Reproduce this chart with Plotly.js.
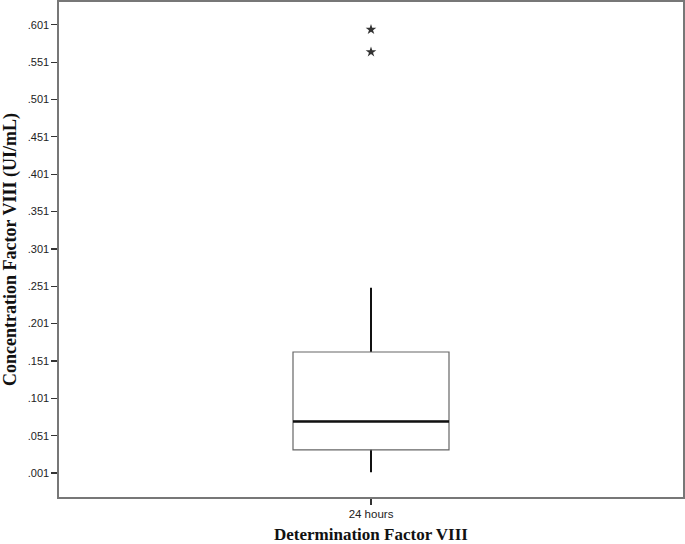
<!DOCTYPE html>
<html>
<head>
<meta charset="utf-8">
<script src="https://cdn.plot.ly/plotly-3.0.1.min.js"></script>
<style>html,body{margin:0;padding:0;background:#fff;}#chart{width:685px;height:544px;}</style>
</head>
<body>
<div id="chart"></div>
<script>
// Data
var categories = ["24 hours"];
var q1 = [0.032];
var median = [0.070];
var q3 = [0.163];
var lowerFence = [0.002];
var upperFence = [0.249];
var outlierValues = [0.5946, 0.5646];
var tickValues = [0.001, 0.051, 0.101, 0.151, 0.201, 0.251, 0.301, 0.351, 0.401, 0.451, 0.501, 0.551, 0.601];
var tickLabels = [".001", ".051", ".101", ".151", ".201", ".251", ".301", ".351", ".401", ".451", ".501", ".551", ".601"];

var traces = [
  // whiskers (thick black, no visible box)
  {type: 'box', x: categories, q1: q1, median: median, q3: q3,
   lowerfence: lowerFence, upperfence: upperFence, width: 0.0001,
   line: {color: '#111', width: 2}, fillcolor: 'rgba(0,0,0,0)',
   whiskerwidth: 0, boxpoints: false, hoverinfo: 'skip', showlegend: false},
  // box outline (thin grey)
  {type: 'box', x: categories, q1: q1, median: median, q3: q3,
   lowerfence: q1, upperfence: q3, width: 0.25,
   line: {color: '#666', width: 1.2}, fillcolor: '#ffffff',
   whiskerwidth: 0, boxpoints: false, hoverinfo: 'skip', showlegend: false},
  // median (thick black)
  {type: 'box', x: categories, q1: median, median: median, q3: median,
   lowerfence: median, upperfence: median, width: 0.25,
   line: {color: '#111', width: 2.6}, fillcolor: 'rgba(0,0,0,0)',
   whiskerwidth: 0, boxpoints: false, hoverinfo: 'skip', showlegend: false},
  // outliers
  {type: 'scatter', mode: 'markers', x: outlierValues.map(function(){return categories[0];}),
   y: outlierValues, marker: {symbol: 'star', size: 8, color: '#333'},
   hoverinfo: 'y', showlegend: false}
];

var layout = {
  width: 685, height: 544,
  margin: {l: 59, r: 2, t: 2, b: 47},
  paper_bgcolor: '#fff', plot_bgcolor: '#fff',
  boxmode: 'overlay',
  showlegend: false,
  xaxis: {
    type: 'category', range: [-0.5, 0.5],
    showline: true, mirror: true, linecolor: '#777', linewidth: 1.6,
    ticks: 'outside', ticklen: 6, tickcolor: '#333', tickwidth: 1.2,
    showgrid: false, zeroline: false,
    tickfont: {family: 'Liberation Sans, Arial, sans-serif', size: 11.5, color: '#222'},
    title: {text: 'Determination Factor VIII', standoff: 11,
      font: {family: 'Liberation Serif, Times New Roman, serif', size: 17, color: '#111', weight: 'bold'}}
  },
  yaxis: {
    range: [-0.0311, 0.6315],
    tickvals: tickValues, ticktext: tickLabels,
    showline: true, mirror: true, linecolor: '#777', linewidth: 1.6,
    ticks: 'outside', ticklen: 6, tickcolor: '#333', tickwidth: 1.2,
    showgrid: false, zeroline: false,
    tickfont: {family: 'Liberation Sans, Arial, sans-serif', size: 11, color: '#222'},
    title: {text: 'Concentration Factor VIII (UI/mL)', standoff: 8,
      font: {family: 'Liberation Serif, Times New Roman, serif', size: 18, color: '#111', weight: 'bold'}}
  }
};

Plotly.newPlot('chart', traces, layout, {staticPlot: true, displayModeBar: false});
</script>
</body>
</html>
